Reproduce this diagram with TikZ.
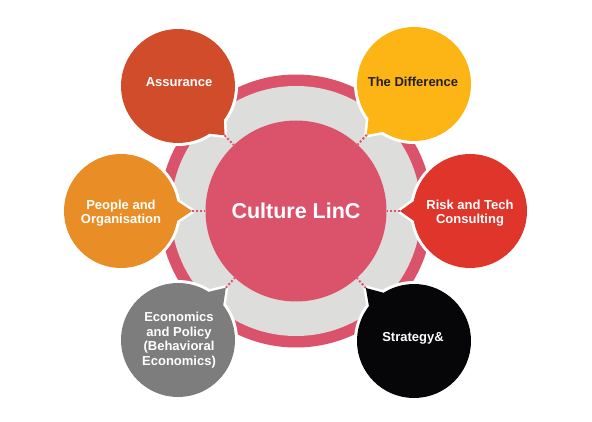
\documentclass[tikz,border=0pt]{standalone}
\usepackage{fontspec}
\setmainfont{Liberation Sans}
\usetikzlibrary{calc}
\definecolor{rose}{HTML}{DB536A}
\definecolor{ringgray}{HTML}{DDDDDB}
\definecolor{assur}{HTML}{D14C2A}
\definecolor{diffc}{HTML}{FDB515}
\definecolor{peoplec}{HTML}{E98E26}
\definecolor{riskc}{HTML}{E0352A}
\definecolor{econc}{HTML}{7D7D7D}
\definecolor{stratc}{HTML}{060608}
\definecolor{darktext}{HTML}{231F20}
\begin{document}
\begin{tikzpicture}[x=1pt,y=-1pt,
  hubdisc/.style={circle, fill=rose, minimum size=181pt, inner sep=0pt, text=white,
    font=\bfseries\fontsize{21.5}{24}\selectfont},
  btext/.style={align=center, text=white, inner sep=0pt,
    font=\bfseries\fontsize{13}{14.5}\selectfont},
  dotline/.style={rose, line width=2pt, dash pattern=on 2pt off 2pt},
  halo/.style={white, line width=5pt, line join=round}]
\useasboundingbox (0,0) rectangle (592,422);
\coordinate (C) at (296,211);
\fill[rose] (C) circle (136.5pt);
\fill[ringgray] (C) circle (125pt);
\node[hubdisc] (hub) at (C) {Culture LinC};
\foreach \n/\x/\y in {A/178/86, D/414/84, P/121/211, R/470/211, E/178/340, S/414/341}{
  \coordinate (c\n) at (\x,\y);
  \coordinate (t\n) at ($(C)!104pt!(c\n)$);
}
\foreach \n in {A,D,P,R,E,S}{
  \fill[white] (c\n) circle (60pt);
  \draw[halo] (t\n) -- ($(c\n)!57pt!10:(t\n)$) -- ($(c\n)!57pt!-10:(t\n)$) -- cycle;
}
\foreach \n/\col in {A/assur, D/diffc, P/peoplec, R/riskc, E/econc, S/stratc}{
  \fill[\col] (c\n) circle (57pt);
  \fill[\col] (t\n) -- ($(c\n)!57pt!10:(t\n)$) -- ($(c\n)!40pt!(t\n)$) -- ($(c\n)!57pt!-10:(t\n)$) -- cycle;
}
\foreach \n in {A,D,P,R,E,S}{
  \draw[dotline] (t\n) -- (hub);
}
\node[btext] (lA) at (179,82) {Assurance};
\node[btext, text=darktext] (lD) at (413,82) {The Difference};
\node[btext] (lP) at (121,213) {People and\\Organisation};
\node[btext] (lR) at (470,213) {Risk and Tech\\Consulting};
\node[btext] (lE) at (179,340) {Economics\\and Policy\\(Behavioral\\Economics)};
\node[btext] (lS) at (413,338) {Strategy\&};
\end{tikzpicture}
\end{document}
